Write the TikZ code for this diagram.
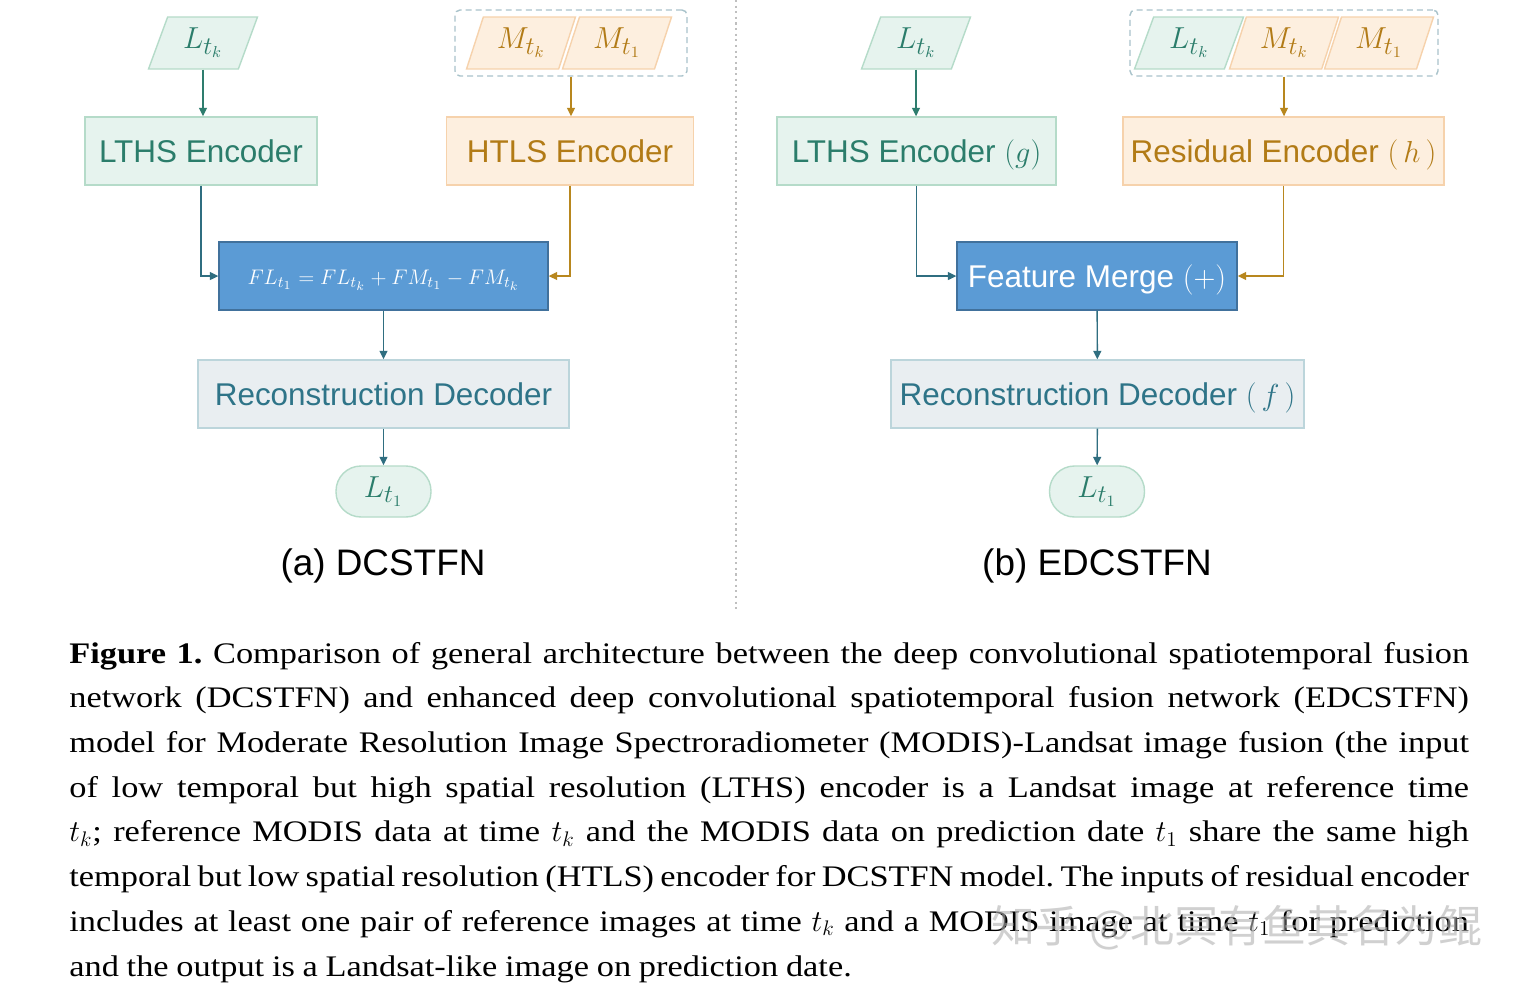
\documentclass[tikz,border=0pt]{standalone}
\usepackage{amsmath}
\usepackage[no-math]{fontspec}
\setmainfont{Liberation Sans}
\newfontfamily\capfont{Liberation Serif}[FakeStretch=1.15]
\newfontfamily\wmfont{Noto Sans CJK SC}
\usetikzlibrary{arrows.meta,positioning,shapes.geometric}

\definecolor{mintfill}{HTML}{E6F3EE}
\definecolor{mintdraw}{HTML}{B5DBC9}
\definecolor{minttext}{HTML}{2B7D6B}
\definecolor{peachfill}{HTML}{FDEFDF}
\definecolor{peachdraw}{HTML}{F6D2AC}
\definecolor{peachtext}{HTML}{B27B16}
\definecolor{bluefill}{HTML}{5B9BD5}
\definecolor{bluedraw}{HTML}{41719C}
\definecolor{greyfill}{HTML}{E9EEF1}
\definecolor{greydraw}{HTML}{BCD5DB}
\definecolor{greytext}{HTML}{2E7488}
\definecolor{tealarrow}{HTML}{2E7D6E}
\definecolor{darkarrow}{HTML}{2F6E80}
\definecolor{orangearrow}{HTML}{B8871E}
\definecolor{groupdash}{HTML}{A9C3CB}

\newcommand{\capline}[1]{\hbox to \linewidth{#1}}

\begin{document}
\begin{tikzpicture}[x=0.02cm, y=-0.02cm,
    box/.style={draw, line width=0.8pt, minimum height=1.36cm, inner sep=0pt,
        text height=12.8pt, text depth=0pt, font=\fontsize{17.9}{21}\selectfont},
    mintbox/.style={box, fill=mintfill, draw=mintdraw, text=minttext},
    peachbox/.style={box, fill=peachfill, draw=peachdraw, text=peachtext},
    bluebox/.style={box, fill=bluefill, draw=bluedraw, text=white},
    greybox/.style={box, fill=greyfill, draw=greydraw, text=greytext},
    para/.style={trapezium, trapezium left angle=70, trapezium right angle=110,
        trapezium stretches=true, minimum width=2.18cm, minimum height=1.04cm,
        inner sep=0pt, line width=0.8pt, font=\fontsize{19}{22}\selectfont},
    mintpara/.style={para, fill=mintfill, draw=mintdraw, text=minttext},
    peachpara/.style={para, fill=peachfill, draw=peachdraw, text=peachtext},
    group/.style={draw=groupdash, line width=0.8pt, dash pattern=on 3.4pt off 2.3pt,
        rounded corners=0.1cm, minimum height=1.32cm, inner sep=0pt},
    outnode/.style={draw=mintdraw, fill=mintfill, text=minttext, line width=0.8pt,
        rounded corners=0.5cm, minimum width=1.9cm, minimum height=1.02cm,
        inner sep=0pt, font=\fontsize{19}{22}\selectfont},
    subcap/.style={font=\fontsize{21}{25}\selectfont, text=black},
    link/.style={line width=0.8pt, -{Triangle[length=1.7mm,width=1.6mm]}},
]
    \useasboundingbox[fill=white] (0,0) rectangle (1529,991);

    % separator between the two panels
    \draw[black!25, line width=0.8pt, dash pattern=on 1.2pt off 2pt] (736,0) -- (736,610);

    % (a) DCSTFN
    \node[group, minimum width=4.64cm] (grpA) at (571,43) {};
    \node[mintpara] (LtkA) at (203,43) {$L_{t_k}$};
    \node[peachpara] (MtkA) at (521,43) {$M_{t_k}$};
    \node[peachpara] (Mt1A) at (617,43) {$M_{t_1}$};
    \node[mintbox, minimum width=4.64cm] (lthsA) at (201,151) {LTHS Encoder};
    \node[peachbox, minimum width=4.94cm] (htlsA) at (570,151) {HTLS Encoder};
    \node[bluebox, minimum width=6.58cm, text height=9.5pt, font=\fontsize{13.2}{16}\selectfont] (mergeA) at (383.5,276)
        {$FL_{t_1} = FL_{t_k} + FM_{t_1} - FM_{t_k}$};
    \node[greybox, minimum width=7.42cm] (decA) at (383.5,394) {Reconstruction Decoder};
    \node[outnode] (outA) at (383.5,491.5) {$L_{t_1}$};
    \node[subcap] (capA) at (383,566) {(a) DCSTFN};

    \draw[link, color=tealarrow] (LtkA.south) -- (LtkA.south |- lthsA.north);
    \draw[link, color=orangearrow] (grpA.south) -- (grpA.south |- htlsA.north);
    \draw[link, color=darkarrow] (lthsA.south) |- (mergeA.west);
    \draw[link, color=orangearrow] (htlsA.south) |- (mergeA.east);
    \draw[link, color=darkarrow] (mergeA) -- (decA);
    \draw[link, color=darkarrow] (decA) -- (outA);

    % (b) EDCSTFN
    \node[group, minimum width=6.16cm] (grpB) at (1284,43) {};
    \node[mintpara] (LtkB) at (916,43) {$L_{t_k}$};
    \node[mintpara] (LtkC) at (1189,43) {$L_{t_k}$};
    \node[peachpara] (MtkB) at (1284,43) {$M_{t_k}$};
    \node[peachpara] (Mt1B) at (1379,43) {$M_{t_1}$};
    \node[mintbox, minimum width=5.58cm] (lthsB) at (916.5,151) {LTHS Encoder $(g)$};
    \node[peachbox, minimum width=6.42cm] (resB) at (1283.5,151) {Residual Encoder $(\,h\,)$};
    \node[bluebox, minimum width=5.6cm] (mergeB) at (1097,276) {Feature Merge $(+)$};
    \node[greybox, minimum width=8.26cm] (decB) at (1097.5,394) {Reconstruction Decoder $(\,f\,)$};
    \node[outnode] (outB) at (1097,491.5) {$L_{t_1}$};
    \node[subcap] (capB) at (1097,566) {(b) EDCSTFN};

    \draw[link, color=tealarrow] (LtkB.south) -- (LtkB.south |- lthsB.north);
    \draw[link, color=orangearrow] (grpB.south) -- (grpB.south |- resB.north);
    \draw[link, color=darkarrow] (lthsB.south) |- (mergeB.west);
    \draw[link, color=orangearrow] (resB.south) |- (mergeB.east);
    \draw[link, color=darkarrow] (mergeB) -- (decB);
    \draw[link, color=darkarrow] (decB) -- (outB);

    % figure caption
    \node[anchor=base west, inner sep=0pt, text width=28cm,
        font=\capfont\fontsize{17}{25.45}\selectfont] (caption) at (69,663) {%
        \frenchspacing\spaceskip=0.26em plus 0.8em minus 0.13em\relax
        \capline{\textbf{Figure 1.} Comparison of general architecture between the deep convolutional spatiotemporal fusion}
        \capline{network (DCSTFN) and enhanced deep convolutional spatiotemporal fusion network (EDCSTFN)}
        \capline{model for Moderate Resolution Image Spectroradiometer (MODIS)-Landsat image fusion (the input}
        \capline{of low temporal but high spatial resolution (LTHS) encoder is a Landsat image at reference time}
        \capline{$t_k$; reference MODIS data at time $t_k$ and the MODIS data on prediction date $t_1$ share the same high}
        \capline{temporal but low spatial resolution (HTLS) encoder for DCSTFN model. The inputs of residual encoder}
        \capline{includes at least one pair of reference images at time $t_k$ and a MODIS image at time $t_1$ for prediction}
        \noindent and the output is a Landsat-like image on prediction date.};

    % watermark
    \node[font=\wmfont\fontsize{25}{30}\selectfont, text=black!30, opacity=0.6] (mark) at (1237,928)
        {知乎 @北冥有鱼其名为鲲};
\end{tikzpicture}
\end{document}
